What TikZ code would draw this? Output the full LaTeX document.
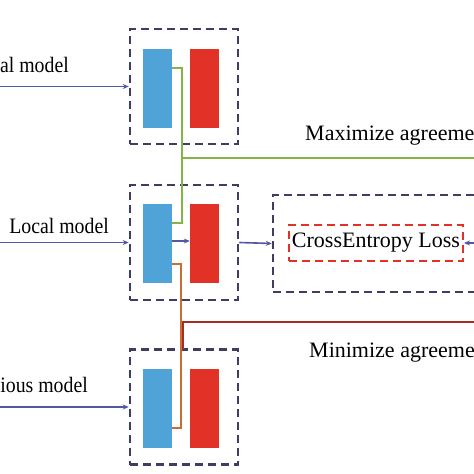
\documentclass[tikz,border=0pt]{standalone}
\usepackage{fontspec}
\setmainfont{Liberation Serif}
\usetikzlibrary{arrows.meta}
\definecolor{cblue}{RGB}{79,163,214}
\definecolor{cred}{RGB}{226,50,40}
\definecolor{cframe}{RGB}{62,62,100}
\definecolor{carrow}{RGB}{80,90,160}
\definecolor{cgreen}{RGB}{130,180,70}
\definecolor{corange}{RGB}{200,110,50}
\definecolor{cdred}{RGB}{170,45,35}
\begin{document}
\begin{tikzpicture}[x=1pt,y=-1pt,
  bluebar/.style={fill=cblue,draw=none,minimum width=29pt,minimum height=79pt,inner sep=0pt},
  redbar/.style={fill=cred,draw=none,minimum width=29pt,minimum height=79pt,inner sep=0pt},
  frame/.style={draw=cframe,line width=2.5pt,dash pattern=on 8pt off 5pt,minimum width=108pt,minimum height=115pt,inner sep=0pt},
  arr/.style={draw=carrow,line width=1.6pt,-{Stealth[length=6pt,width=5pt]}},
  lbl/.style={font=\fontsize{22}{26}\selectfont,inner sep=0pt},
  mlbl/.style={lbl,xscale=0.9},
  gline/.style={draw=cgreen,line width=2pt},
  oline/.style={draw=corange,line width=2pt},
  rline/.style={draw=cdred,line width=2.2pt}
]
\useasboundingbox (0,0) rectangle (474,474);
\clip (0,0) rectangle (474,474);
\fill[white] (0,0) rectangle (474,474);

% model boxes
\node[frame] (f1) at (184,86.5) {};
\node[bluebar] (b1) at (157.5,88.5) {};
\node[redbar] (r1) at (204.5,88.5) {};

\node[frame] (f2) at (184,242.5) {};
\node[bluebar] (b2) at (157.5,243) {};
\node[redbar] (r2) at (204.5,243) {};

\node[frame] (f3) at (184,407) {};
\node[bluebar] (b3) at (157.5,408) {};
\node[redbar] (r3) at (204.5,408) {};

% inputs
\coordinate (in1) at (-5,86.5);
\coordinate (in2) at (-5,242.5);
\coordinate (in3) at (-5,407);
\draw[arr] (in1) -- (f1.west);
\draw[arr] (in2) -- (f2.west);
\draw[arr] (in3) -- (f3.west);
\node[mlbl,anchor=base east] (t1) at (69,72) {Global model};
\node[mlbl,anchor=base east] (t2) at (109,233) {Local model};
\node[mlbl,anchor=base east] (t3) at (88,392) {Previous model};

% loss boxes
\node[frame,minimum width=247pt,minimum height=97pt] (ce) at (396.5,243.5) {};
\node[lbl,draw=cred,line width=2pt,dash pattern=on 8pt off 5pt,minimum width=174pt,minimum height=36pt] (cel) at (376,243) {CrossEntropy Loss};
\coordinate (inR) at (490,243);
\draw[arr] (inR) -- (cel.east);
\draw[arr] (b2.east |- 0,241) -- (r2.west |- 0,241);
\draw[arr] (f2.east) -- (ce.west);

% agreement lines
\coordinate (gEnd) at (480,158);
\coordinate (rEnd) at (480,322);
\draw[gline] (b1.east |- 0,68) -- (182,68) -- (182,223) -- (b2.east |- 0,223);
\draw[gline] (182,158) -- (gEnd);
\draw[oline] (b2.east |- 0,264) -- (181,264) -- (181,428) -- (b3.east |- 0,428);
\draw[rline] (183,350) -- (183,322) -- (rEnd);

\node[lbl,anchor=base west] (mx) at (305,140) {Maximize agreement};
\node[lbl,anchor=base west] (mn) at (309,357) {Minimize agreement};
\end{tikzpicture}
\end{document}
